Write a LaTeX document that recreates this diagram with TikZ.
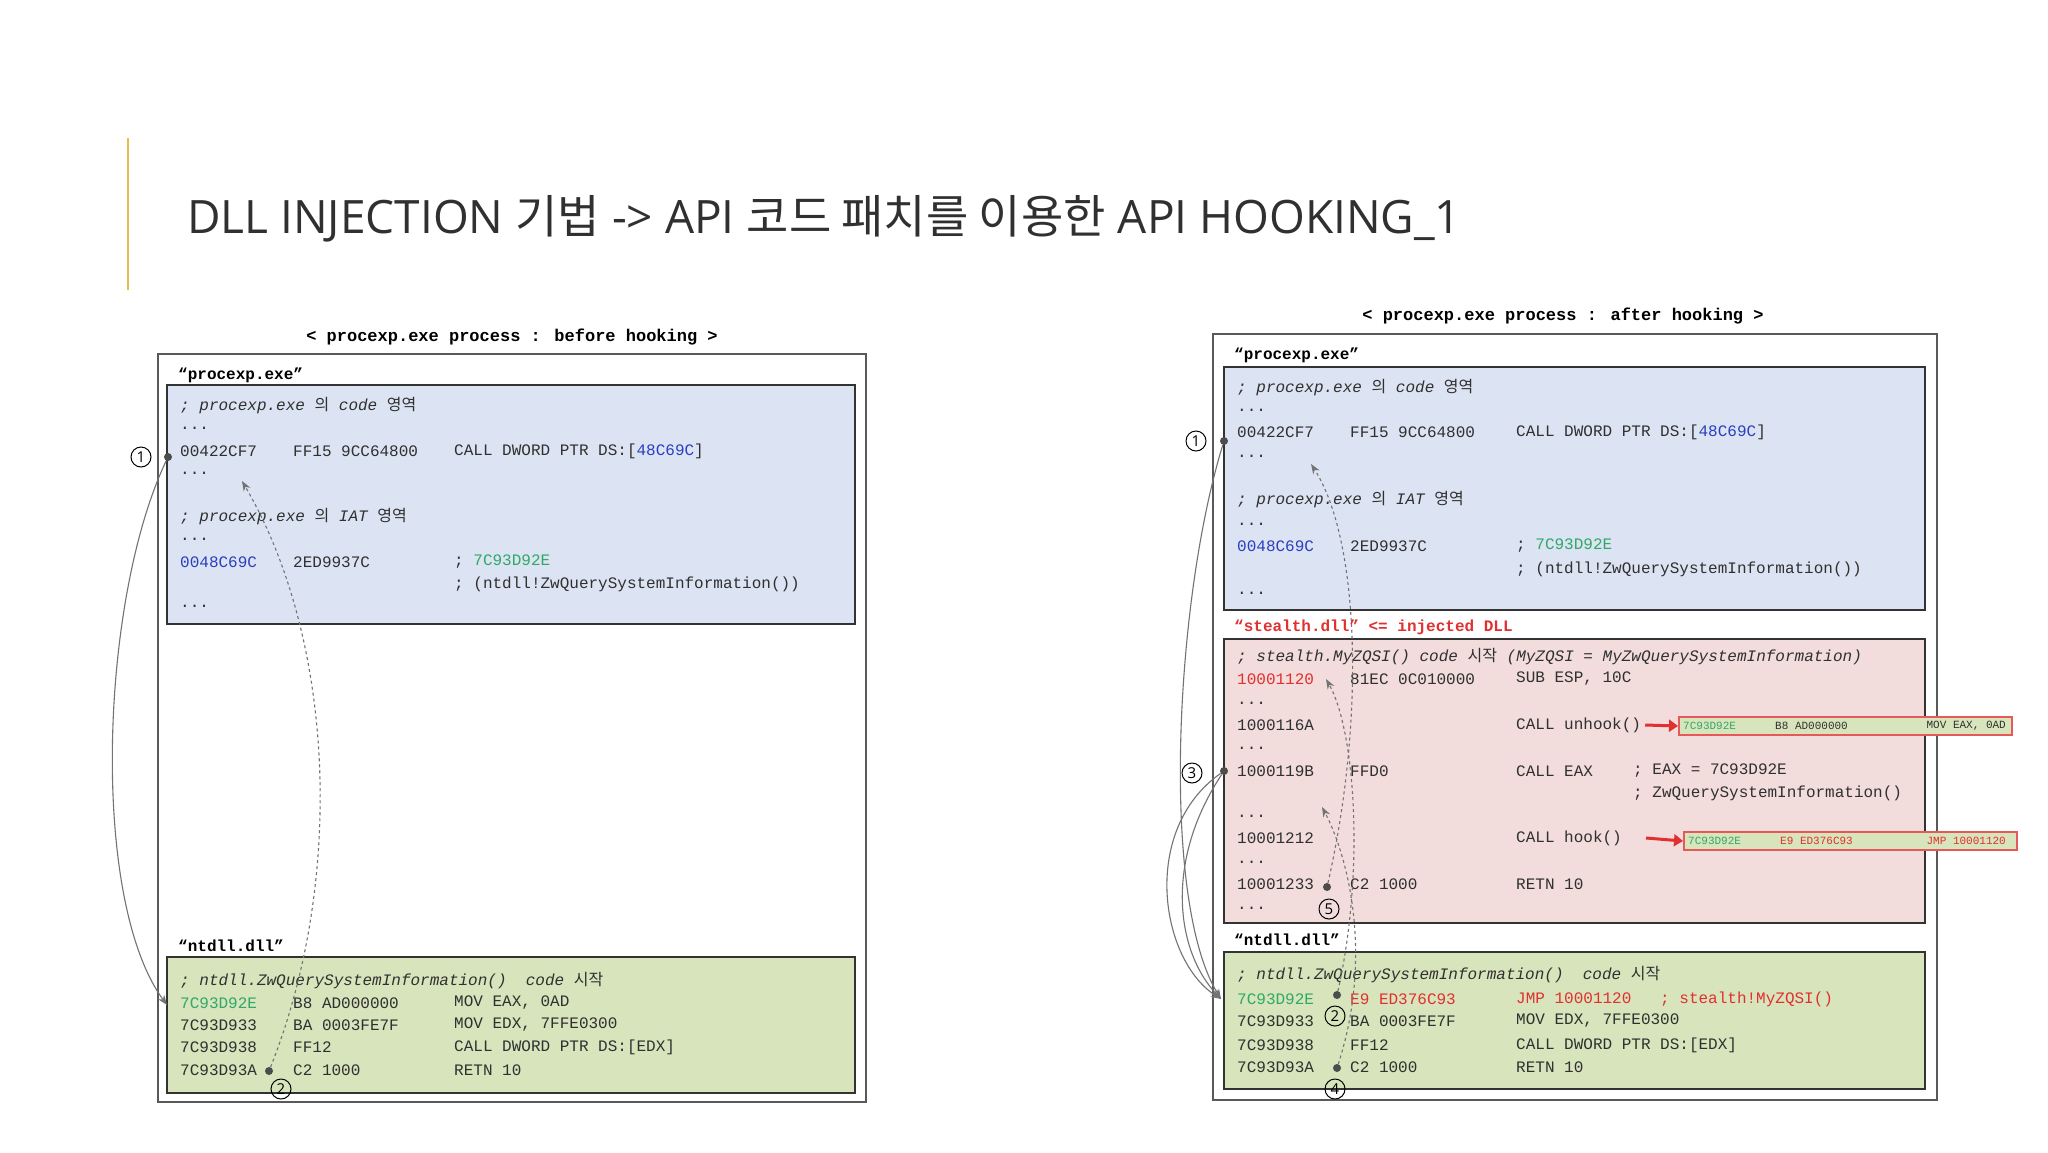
\documentclass[tikz,border=0pt]{standalone}
\usepackage{fontspec}
\setmainfont{Open Sans}
\newfontfamily\krf{Noto Sans CJK KR}
\newfontfamily\cdf{Liberation Mono}
\usetikzlibrary{arrows.meta}
\definecolor{tgray}{HTML}{303030}
\definecolor{gold}{HTML}{E0C050}
\definecolor{bfill}{HTML}{DCE3F2}
\definecolor{pfill}{HTML}{F2DCDC}
\definecolor{gfill}{HTML}{D8E4BC}
\definecolor{adb}{HTML}{2A3FBF}
\definecolor{adg}{HTML}{30A868}
\definecolor{adr}{HTML}{E03030}
\newcommand\kr[1]{{\krf #1}}
\newcommand\bl[1]{\textcolor{adb}{#1}}
\newcommand\gr[1]{\textcolor{adg}{#1}}
\newcommand\rd[1]{\textcolor{adr}{#1}}
\newcommand\cl[4]{\node[cd] (#1) at (#2,#3) {#4};}
\begin{document}
\begin{tikzpicture}[x=1pt,y=-1pt,
  cd/.style={anchor=west,inner sep=0pt,font=\cdf\fontsize{16}{18}\selectfont,text=tgray},
  cdi/.style={cd,font=\cdf\itshape\fontsize{16}{18}\selectfont},
  hd/.style={inner sep=0pt,font=\cdf\bfseries\fontsize{17}{19}\selectfont,text=black},
  lab/.style={anchor=west,inner sep=0pt,font=\cdf\bfseries\fontsize{16}{18}\selectfont,text=black},
  outer/.style={draw=gray!70!black,line width=1.2pt},
  area/.style={draw=black!80,line width=1.4pt},
  num/.style={circle,draw=black,line width=1pt,inner sep=1pt,font=\fontsize{15}{15}\selectfont,minimum size=20pt},
  dot/.style={circle,fill=black!70,inner sep=0pt,minimum size=8pt},
  sol/.style={draw=black!55,line width=1.1pt,-{Stealth[length=10pt]}},
  dsh/.style={draw=black!55,line width=1.1pt,dashed,-{Stealth[length=10pt]}},
  patch/.style={draw=adr!80,line width=1.5pt,fill=gfill,minimum width=333pt,minimum height=18pt,inner sep=0pt},
  pt/.style={anchor=west,inner sep=0pt,font=\cdf\fontsize{11}{12}\selectfont,text=tgray},
  rarr/.style={draw=adr,line width=3pt,-{Triangle[length=9pt,width=12pt]}}]
\useasboundingbox (0,0) rectangle (2048,1152);
\fill[white] (0,0) rectangle (2048,1152);
\draw[gold,line width=2.5pt] (128,138) -- (128,290);
\node[anchor=west,inner sep=0pt,text=tgray,font=\fontsize{46}{50}\selectfont] (title) at (187,219)
  {DLL INJECTION \kr{기법} -> API \kr{코드 패치를 이용한} API HOOKING\_1};

% ===== LEFT =====
\node[hd] (lt) at (512,337) {< procexp.exe process : before hooking >};
\draw[outer] (158,354) rectangle (866,1102);
\node[lab] (lpl) at (178,375) {“procexp.exe”};
\draw[area,fill=bfill] (167,385) rectangle (855,624);
\cl{a1}{180}{406}{\itshape ; procexp.exe \kr{의} code \kr{영역}}
\cl{a2}{180}{428}{...}
\cl{a3}{180}{451}{00422CF7}
\cl{a3b}{293}{451}{FF15 9CC64800}
\cl{a3c}{454}{451}{CALL DWORD PTR DS:[\bl{48C69C}]}
\cl{a4}{180}{473}{...}
\cl{a5}{180}{517}{\itshape ; procexp.exe \kr{의} IAT \kr{영역}}
\cl{a6}{180}{539}{...}
\cl{a7}{180}{562}{\bl{0048C69C}}
\cl{a7b}{293}{562}{2ED9937C}
\cl{a7c}{454}{562}{; \gr{7C93D92E}}
\cl{a8}{454}{584}{; (ntdll!ZwQuerySystemInformation())}
\cl{a9}{180}{606}{...}
\node[lab] (lnl) at (178,946) {“ntdll.dll”};
\draw[area,fill=gfill] (167,957) rectangle (855,1093);
\cl{b1}{180}{981}{\itshape ; ntdll.ZwQuerySystemInformation()\ \ code \kr{시작}}
\cl{b2}{180}{1003}{\gr{7C93D92E}}
\cl{b2b}{293}{1003}{B8 AD000000}
\cl{b2c}{454}{1003}{MOV EAX, 0AD}
\cl{b3}{180}{1025}{7C93D933}
\cl{b3b}{293}{1025}{BA 0003FE7F}
\cl{b3c}{454}{1025}{MOV EDX, 7FFE0300}
\cl{b4}{180}{1047}{7C93D938}
\cl{b4b}{293}{1047}{FF12}
\cl{b4c}{454}{1047}{CALL DWORD PTR DS:[EDX]}
\cl{b5}{180}{1070}{7C93D93A}
\cl{b5b}{293}{1070}{C2 1000}
\cl{b5c}{454}{1070}{RETN 10}
\node[dot] (ld1) at (168,457) {};
\node[num] (ln1) at (141,457) {1};
\node[dot] (ld2) at (269,1071) {};
\node[num] (ln2) at (281,1089) {2};
\coordinate (lt1) at (167,1005);
\coordinate (lt2) at (242,481);
\draw[sol] (ld1) .. controls (100,600) and (90,900) .. (lt1);
\draw[dsh] (ld2) .. controls (345,880) and (335,640) .. (lt2);

% ===== RIGHT =====
\node[hd] (rt) at (1563,316) {< procexp.exe process : after hooking >};
\draw[outer] (1213,334) rectangle (1937,1100);
\node[lab] (rpl) at (1234,355) {“procexp.exe”};
\draw[area,fill=bfill] (1224,367) rectangle (1925,610);
\cl{c1}{1237}{388}{\itshape ; procexp.exe \kr{의} code \kr{영역}}
\cl{c2}{1237}{410}{...}
\cl{c3}{1237}{432}{00422CF7}
\cl{c3b}{1350}{432}{FF15 9CC64800}
\cl{c3c}{1516}{432}{CALL DWORD PTR DS:[\bl{48C69C}]}
\cl{c4}{1237}{456}{...}
\cl{c5}{1237}{500}{\itshape ; procexp.exe \kr{의} IAT \kr{영역}}
\cl{c6}{1237}{524}{...}
\cl{c7}{1237}{546}{\bl{0048C69C}}
\cl{c7b}{1350}{546}{2ED9937C}
\cl{c7c}{1516}{546}{; \gr{7C93D92E}}
\cl{c8}{1516}{569}{; (ntdll!ZwQuerySystemInformation())}
\cl{c9}{1237}{593}{...}
\node[lab,text=adr] (rsl) at (1234,627) {“stealth.dll” <= injected DLL};
\draw[area,fill=pfill] (1224,639) rectangle (1925,923);
\cl{d1}{1237}{657}{\itshape ; stealth.MyZQSI()\ code \kr{시작} (MyZQSI = MyZwQuerySystemInformation)}
\cl{d2}{1237}{679}{\rd{10001120}}
\cl{d2b}{1350}{679}{81EC 0C010000}
\cl{d2c}{1516}{679}{SUB ESP, 10C}
\cl{d3}{1237}{703}{...}
\cl{d4}{1237}{725}{1000116A}
\cl{d4c}{1516}{725}{CALL unhook()}
\cl{d5}{1237}{748}{...}
\cl{d6}{1237}{771}{1000119B}
\cl{d6b}{1350}{771}{FFD0}
\cl{d6c}{1516}{771}{CALL EAX}
\cl{d6d}{1633}{771}{; EAX = 7C93D92E}
\cl{d7}{1633}{793}{; ZwQuerySystemInformation()}
\cl{d8}{1237}{816}{...}
\cl{d9}{1237}{838}{10001212}
\cl{d9c}{1516}{838}{CALL hook()}
\cl{d10}{1237}{862}{...}
\cl{d11}{1237}{884}{10001233}
\cl{d11b}{1350}{884}{C2 1000}
\cl{d11c}{1516}{884}{RETN 10}
\cl{d12}{1237}{908}{...}
% patches
\node[patch,anchor=west] (p1) at (1678,726) {};
\node[pt] (p1a) at (1683,726) {\gr{7C93D92E}};
\node[pt] (p1b) at (1775,726) {B8 AD000000};
\node[pt,anchor=east] (p1c) at (2006,726) {MOV EAX, 0AD};
\node[patch,anchor=west] (p2) at (1683,841) {};
\node[pt] (p2a) at (1688,841) {\gr{7C93D92E}};
\node[pt] (p2b) at (1780,841) {\rd{E9 ED376C93}};
\node[pt,anchor=east] (p2c) at (2006,841) {\rd{JMP 10001120}};
\draw[rarr] (d4c.east) ++(4,0) -- (p1.west);
\draw[rarr] (d9c.east) ++(24,0) -- (p2.west);
\node[lab] (rnl) at (1234,940) {“ntdll.dll”};
\draw[area,fill=gfill] (1224,952) rectangle (1925,1089);
\cl{e1}{1237}{975}{\itshape ; ntdll.ZwQuerySystemInformation()\ \ code \kr{시작}}
\cl{e2}{1237}{999}{\gr{7C93D92E}}
\cl{e2b}{1350}{999}{\rd{E9 ED376C93}}
\cl{e2c}{1516}{999}{\rd{JMP 10001120\ \ \ ; stealth!MyZQSI()}}
\cl{e3}{1237}{1021}{7C93D933}
\cl{e3b}{1350}{1021}{BA 0003FE7F}
\cl{e3c}{1516}{1021}{MOV EDX, 7FFE0300}
\cl{e4}{1237}{1045}{7C93D938}
\cl{e4b}{1350}{1045}{FF12}
\cl{e4c}{1516}{1045}{CALL DWORD PTR DS:[EDX]}
\cl{e5}{1237}{1067}{7C93D93A}
\cl{e5b}{1350}{1067}{C2 1000}
\cl{e5c}{1516}{1067}{RETN 10}
\node[dot] (rd1) at (1224,441) {};
\node[num] (rn1) at (1196,441) {1};
\node[dot] (rd3) at (1224,771) {};
\node[num] (rn3) at (1192,773) {3};
\node[dot] (rd5) at (1327,887) {};
\node[num] (rn5) at (1329,909) {5};
\node[dot] (rd2) at (1337,995) {};
\node[num] (rn2) at (1335,1016) {2};
\node[dot] (rd4) at (1337,1068) {};
\node[num] (rn4) at (1335,1089) {4};
\coordinate (rt1) at (1221,999);
\coordinate (rt2) at (1326,679);
\coordinate (rt4) at (1322,807);
\coordinate (rt5) at (1311,464);
\draw[sol] (rd1) .. controls (1175,600) and (1160,900) .. (rt1);
\draw[sol] (rd3) .. controls (1165,860) and (1175,950) .. (rt1);
\draw[sol] (rd3) .. controls (1140,830) and (1160,960) .. (rt1);
\draw[dsh] (rd2) .. controls (1365,870) and (1355,730) .. (rt2);
\draw[dsh] (rd4) .. controls (1375,950) and (1345,850) .. (rt4);
\draw[dsh] (rd5) .. controls (1365,720) and (1360,540) .. (rt5);
\end{tikzpicture}
\end{document}
